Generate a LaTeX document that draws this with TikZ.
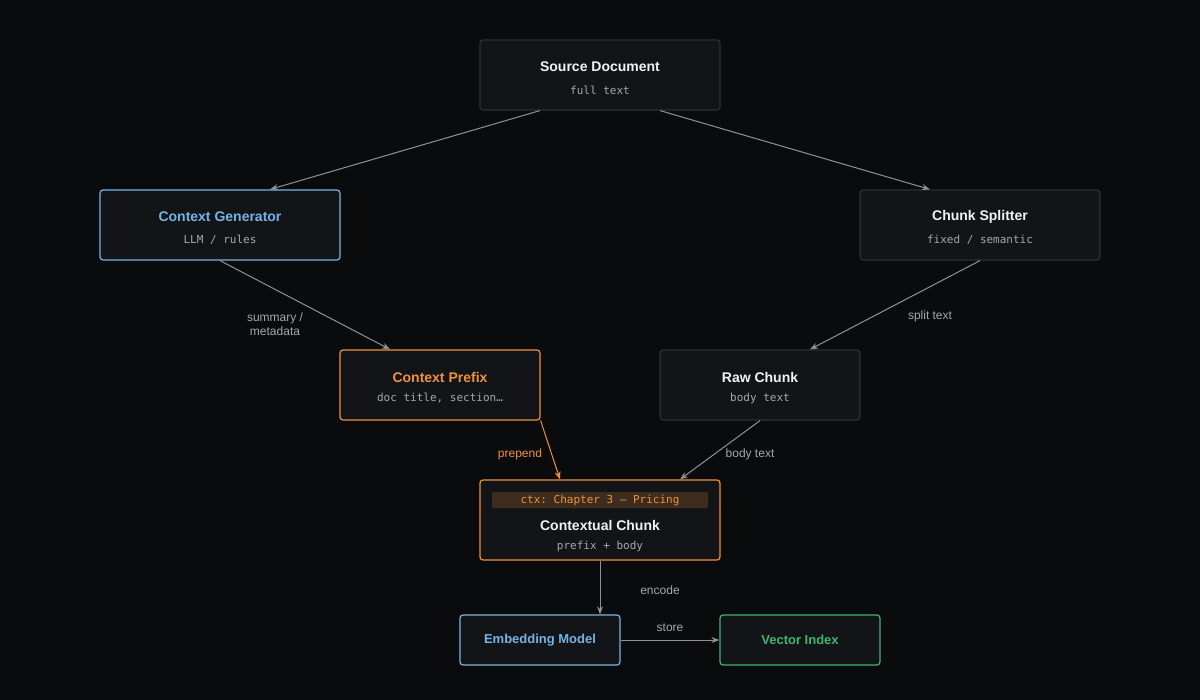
\documentclass[tikz,border=0pt]{standalone}
\usepackage{fontspec}
\setmainfont{Liberation Sans}
\setmonofont{DejaVu Sans Mono}
\usetikzlibrary{arrows.meta}
\definecolor{bg}{HTML}{0A0B0D}
\definecolor{nf}{HTML}{131418}
\definecolor{nb}{HTML}{2C2F35}
\definecolor{bl}{HTML}{74B4E6}
\definecolor{og}{HTML}{F0913C}
\definecolor{gr}{HTML}{3FB56E}
\definecolor{tx}{HTML}{F2F2F2}
\definecolor{mt}{HTML}{A5A7AB}
\definecolor{ed}{HTML}{8E9196}
\definecolor{band}{HTML}{3E2C1D}
\tikzset{
 box/.style={draw=nb,fill=nf,rounded corners=3pt,line width=1.2pt,minimum width=#1},
 t/.style={font=\bfseries\fontsize{14}{16}\selectfont,text=tx},
 m/.style={font=\ttfamily\fontsize{11}{13}\selectfont,text=mt},
 e/.style={draw=ed,line width=1pt,-{Stealth[length=8pt,width=6pt]}},
 lb/.style={font=\fontsize{12}{14}\selectfont,text=mt,align=center},
}
\begin{document}
\begin{tikzpicture}[x=1pt,y=-1pt]
\fill[bg] (0,0) rectangle (1200,700);
\useasboundingbox (0,0) rectangle (1200,700);
\node[box=240pt,minimum height=70pt] (src) at (600,75) {};
\node[t] at (600,67) {Source Document};
\node[m] at (600,90) {full text};
\node[box=240pt,minimum height=70pt,draw=bl] (cg) at (220,225) {};
\node[t,text=bl] at (220,217) {Context Generator};
\node[m] at (220,240) {LLM / rules};
\node[box=240pt,minimum height=70pt] (cs) at (980,225) {};
\node[t] at (980,217) {Chunk Splitter};
\node[m] at (980,240) {fixed / semantic};
\node[box=200pt,minimum height=70pt,draw=og] (cp) at (440,385) {};
\node[t,text=og] at (440,377) {Context Prefix};
\node[m] at (440,398) {doc title, section…};
\node[box=200pt,minimum height=70pt] (rc) at (760,385) {};
\node[t] at (760,377) {Raw Chunk};
\node[m] at (760,398) {body text};
\node[box=240pt,minimum height=80pt,draw=og] (cc) at (600,520) {};
\fill[band,rounded corners=2pt] (492,492) rectangle (708,508);
\node[m,text=og] at (600,501) {ctx: Chapter 3 — Pricing};
\node[t] at (600,525) {Contextual Chunk};
\node[m] at (600,546) {prefix + body};
\node[box=160pt,minimum height=50pt,draw=bl] (em) at (540,640) {};
\node[t,text=bl,font=\bfseries\fontsize{13}{15}\selectfont] at (540,640) {Embedding Model};
\node[box=160pt,minimum height=50pt,draw=gr] (vi) at (800,640) {};
\node[t,text=gr,font=\bfseries\fontsize{13}{15}\selectfont] at (800,640) {Vector Index};
\draw[e] ([xshift=-60pt]src.south) -- ([xshift=50pt]cg.north);
\draw[e] ([xshift=60pt]src.south) -- ([xshift=-50pt]cs.north);
\draw[e] (cg.south) -- ([xshift=-50pt]cp.north);
\draw[e] (cs.south) -- ([xshift=50pt]rc.north);
\draw[e,draw=og] (cp.south east) -- ([xshift=-40pt]cc.north);
\draw[e] (rc.south) -- ([xshift=80pt]cc.north);
\draw[e] (cc.south) -- (em.north -| cc.south);
\draw[e] (em.east) -- (vi.west);
\node[lb] at (275,324) {summary /\\metadata};
\node[lb] at (930,316) {split text};
\node[lb,text=og] at (520,454) {prepend};
\node[lb] at (750,454) {body text};
\node[lb] at (660,590) {encode};
\node[lb] at (670,628) {store};
\end{tikzpicture}
\end{document}
